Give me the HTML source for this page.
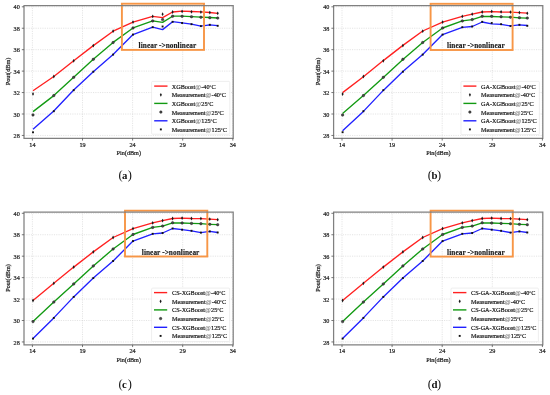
<!DOCTYPE html>
<html><head><meta charset="utf-8"><style>
html,body{margin:0;padding:0;background:#fff;width:550px;height:395px;overflow:hidden}
svg{display:block;font-family:'Liberation Serif', 'Times New Roman', serif}
</style></head><body>
<svg width="550" height="395" viewBox="0 0 550 395">
<rect width="550" height="395" fill="#fff"/>
<g stroke="#cdcdcd" stroke-width="0.55" stroke-dasharray="1.15 1.15"><line x1="32.40" y1="5.50" x2="32.40" y2="138.35"/><line x1="82.50" y1="5.50" x2="82.50" y2="138.35"/><line x1="132.60" y1="5.50" x2="132.60" y2="138.35"/><line x1="182.70" y1="5.50" x2="182.70" y2="138.35"/><line x1="232.80" y1="5.50" x2="232.80" y2="138.35"/><line x1="24.00" y1="135.44" x2="233.20" y2="135.44"/><line x1="24.00" y1="114.00" x2="233.20" y2="114.00"/><line x1="24.00" y1="92.56" x2="233.20" y2="92.56"/><line x1="24.00" y1="71.12" x2="233.20" y2="71.12"/><line x1="24.00" y1="49.68" x2="233.20" y2="49.68"/><line x1="24.00" y1="28.24" x2="233.20" y2="28.24"/><line x1="24.00" y1="6.80" x2="233.20" y2="6.80"/></g>
<polyline points="33.00,90.80 53.80,76.50 73.70,60.80 93.30,45.60 113.10,31.20 133.00,22.10 152.70,16.40 162.60,17.60 172.60,12.00 182.10,11.20 191.50,11.50 200.90,11.90 209.80,12.50 217.70,13.40" fill="none" stroke="#ff2020" stroke-width="1.35" stroke-linejoin="round" stroke-linecap="butt"/>
<polyline points="33.00,111.60 53.80,95.60 73.70,77.20 93.30,59.20 113.10,42.40 133.00,27.95 152.70,20.90 162.60,22.40 172.60,16.20 182.10,16.10 191.50,16.60 200.90,17.10 209.80,17.50 217.70,18.00" fill="none" stroke="#129a12" stroke-width="1.35" stroke-linejoin="round" stroke-linecap="butt"/>
<polyline points="33.00,129.20 53.80,111.00 73.70,90.00 93.30,71.70 113.10,54.60 133.00,34.60 152.70,27.10 162.60,29.60 172.60,21.70 182.10,22.80 191.50,24.20 200.90,26.10 209.80,24.80 217.70,25.70" fill="none" stroke="#2020ff" stroke-width="1.35" stroke-linejoin="round" stroke-linecap="butt"/>
<path d="M33.00,92.00 L34.05,93.90 L33.00,95.80 L31.95,93.90Z" fill="#1a1a1a"/>
<path d="M53.80,74.60 L54.85,76.50 L53.80,78.40 L52.75,76.50Z" fill="#1a1a1a"/>
<path d="M73.70,58.90 L74.75,60.80 L73.70,62.70 L72.65,60.80Z" fill="#1a1a1a"/>
<path d="M93.30,43.70 L94.35,45.60 L93.30,47.50 L92.25,45.60Z" fill="#1a1a1a"/>
<path d="M113.10,29.30 L114.15,31.20 L113.10,33.10 L112.05,31.20Z" fill="#1a1a1a"/>
<path d="M133.00,20.20 L134.05,22.10 L133.00,24.00 L131.95,22.10Z" fill="#1a1a1a"/>
<path d="M152.70,14.50 L153.75,16.40 L152.70,18.30 L151.65,16.40Z" fill="#1a1a1a"/>
<path d="M162.60,12.30 L163.65,14.20 L162.60,16.10 L161.55,14.20Z" fill="#1a1a1a"/>
<path d="M172.60,10.10 L173.65,12.00 L172.60,13.90 L171.55,12.00Z" fill="#1a1a1a"/>
<path d="M182.10,9.50 L183.15,11.40 L182.10,13.30 L181.05,11.40Z" fill="#1a1a1a"/>
<path d="M191.50,9.90 L192.55,11.80 L191.50,13.70 L190.45,11.80Z" fill="#1a1a1a"/>
<path d="M200.90,10.20 L201.95,12.10 L200.90,14.00 L199.85,12.10Z" fill="#1a1a1a"/>
<path d="M209.80,10.70 L210.85,12.60 L209.80,14.50 L208.75,12.60Z" fill="#1a1a1a"/>
<path d="M217.70,11.40 L218.75,13.30 L217.70,15.20 L216.65,13.30Z" fill="#1a1a1a"/>
<circle cx="33.00" cy="114.90" r="1.25" fill="#484848" stroke="#1c1c1c" stroke-width="0.45"/>
<circle cx="53.80" cy="95.60" r="1.25" fill="#484848" stroke="#1c1c1c" stroke-width="0.45"/>
<circle cx="73.70" cy="77.30" r="1.25" fill="#484848" stroke="#1c1c1c" stroke-width="0.45"/>
<circle cx="93.30" cy="59.30" r="1.25" fill="#484848" stroke="#1c1c1c" stroke-width="0.45"/>
<circle cx="113.10" cy="42.50" r="1.25" fill="#484848" stroke="#1c1c1c" stroke-width="0.45"/>
<circle cx="133.00" cy="27.95" r="1.25" fill="#484848" stroke="#1c1c1c" stroke-width="0.45"/>
<circle cx="152.70" cy="20.90" r="1.25" fill="#484848" stroke="#1c1c1c" stroke-width="0.45"/>
<circle cx="162.60" cy="19.60" r="1.25" fill="#484848" stroke="#1c1c1c" stroke-width="0.45"/>
<circle cx="172.60" cy="16.20" r="1.25" fill="#484848" stroke="#1c1c1c" stroke-width="0.45"/>
<circle cx="182.10" cy="16.30" r="1.25" fill="#484848" stroke="#1c1c1c" stroke-width="0.45"/>
<circle cx="191.50" cy="16.70" r="1.25" fill="#484848" stroke="#1c1c1c" stroke-width="0.45"/>
<circle cx="200.90" cy="17.20" r="1.25" fill="#484848" stroke="#1c1c1c" stroke-width="0.45"/>
<circle cx="209.80" cy="17.70" r="1.25" fill="#484848" stroke="#1c1c1c" stroke-width="0.45"/>
<circle cx="217.70" cy="18.10" r="1.25" fill="#484848" stroke="#1c1c1c" stroke-width="0.45"/>
<rect x="32.05" y="131.35" width="1.9" height="1.9" fill="#111"/>
<rect x="52.85" y="110.25" width="1.9" height="1.9" fill="#111"/>
<rect x="72.75" y="89.25" width="1.9" height="1.9" fill="#111"/>
<rect x="92.35" y="70.75" width="1.9" height="1.9" fill="#111"/>
<rect x="112.15" y="53.65" width="1.9" height="1.9" fill="#111"/>
<rect x="132.05" y="33.65" width="1.9" height="1.9" fill="#111"/>
<rect x="151.75" y="26.25" width="1.9" height="1.9" fill="#111"/>
<rect x="161.65" y="25.55" width="1.9" height="1.9" fill="#111"/>
<rect x="171.65" y="20.85" width="1.9" height="1.9" fill="#111"/>
<rect x="181.15" y="22.05" width="1.9" height="1.9" fill="#111"/>
<rect x="190.55" y="23.25" width="1.9" height="1.9" fill="#111"/>
<rect x="199.95" y="25.15" width="1.9" height="1.9" fill="#111"/>
<rect x="208.85" y="23.85" width="1.9" height="1.9" fill="#111"/>
<rect x="216.75" y="24.85" width="1.9" height="1.9" fill="#111"/>
<rect x="121.90" y="3.70" width="82.10" height="46.20" fill="none" stroke="#f79646" stroke-width="1.9"/>
<text x="138.60" y="48.40" font-size="7.3" font-weight="bold" letter-spacing="0.06" fill="#1a1a1a" stroke="#1a1a1a" stroke-width="0.15">linear -&gt;nonlinear</text>
<path d="M24.00,138.35 V5.50 H233.20 V138.35 Z" fill="none" stroke="#808080" stroke-width="1.25"/>
<g stroke="#555" stroke-width="0.8"><line x1="32.40" y1="138.35" x2="32.40" y2="140.55"/><line x1="82.50" y1="138.35" x2="82.50" y2="140.55"/><line x1="132.60" y1="138.35" x2="132.60" y2="140.55"/><line x1="182.70" y1="138.35" x2="182.70" y2="140.55"/><line x1="232.80" y1="138.35" x2="232.80" y2="140.55"/><line x1="21.80" y1="135.44" x2="24.00" y2="135.44"/><line x1="21.80" y1="114.00" x2="24.00" y2="114.00"/><line x1="21.80" y1="92.56" x2="24.00" y2="92.56"/><line x1="21.80" y1="71.12" x2="24.00" y2="71.12"/><line x1="21.80" y1="49.68" x2="24.00" y2="49.68"/><line x1="21.80" y1="28.24" x2="24.00" y2="28.24"/><line x1="21.80" y1="6.80" x2="24.00" y2="6.80"/></g>
<g font-size="6.2" fill="#262626" stroke="#262626" stroke-width="0.22">
<text x="32.40" y="146.90" text-anchor="middle">14</text>
<text x="82.50" y="146.90" text-anchor="middle">19</text>
<text x="132.60" y="146.90" text-anchor="middle">24</text>
<text x="182.70" y="146.90" text-anchor="middle">29</text>
<text x="232.80" y="146.90" text-anchor="middle">34</text>
<text x="19.80" y="138.04" text-anchor="end">28</text>
<text x="19.80" y="116.60" text-anchor="end">30</text>
<text x="19.80" y="95.16" text-anchor="end">32</text>
<text x="19.80" y="73.72" text-anchor="end">34</text>
<text x="19.80" y="52.28" text-anchor="end">36</text>
<text x="19.80" y="30.84" text-anchor="end">38</text>
<text x="19.80" y="9.40" text-anchor="end">40</text>
<text x="128.80" y="155.20" text-anchor="middle">Pin(dBm)</text>
<text transform="translate(10.30,71.50) rotate(-90)" text-anchor="middle">Pout(dBm)</text>
</g>
<rect x="151.60" y="81.40" width="78.20" height="52.80" rx="1" fill="#fff" fill-opacity="0.9" stroke="#e2e2e2" stroke-width="0.6"/>
<line x1="154.20" y1="86.10" x2="167.50" y2="86.10" stroke="#ff2020" stroke-width="1.4"/>
<text x="171.80" y="88.60" font-size="6.2" fill="#262626" stroke="#262626" stroke-width="0.22">XGBoost<tspan fill="#808080" stroke="#8a8a8a" stroke-width="0.15">@</tspan><tspan dx="0.4">-40</tspan><tspan font-size="4.6" dy="-1.1">°</tspan><tspan dy="1.1">C</tspan></text>
<path d="M160.85,92.90 L161.90,94.80 L160.85,96.70 L159.80,94.80Z" fill="#1a1a1a"/>
<text x="171.80" y="97.30" font-size="6.2" fill="#262626" stroke="#262626" stroke-width="0.22">Measurement<tspan fill="#808080" stroke="#8a8a8a" stroke-width="0.15">@</tspan><tspan dx="0.4">-40</tspan><tspan font-size="4.6" dy="-1.1">°</tspan><tspan dy="1.1">C</tspan></text>
<line x1="154.20" y1="103.40" x2="167.50" y2="103.40" stroke="#129a12" stroke-width="1.4"/>
<text x="171.80" y="105.90" font-size="6.2" fill="#262626" stroke="#262626" stroke-width="0.22">XGBoost<tspan fill="#808080" stroke="#8a8a8a" stroke-width="0.15">@</tspan><tspan dx="0.4">25</tspan><tspan font-size="4.6" dy="-1.1">°</tspan><tspan dy="1.1">C</tspan></text>
<circle cx="160.85" cy="112.10" r="1.25" fill="#484848" stroke="#1c1c1c" stroke-width="0.45"/>
<text x="171.80" y="114.60" font-size="6.2" fill="#262626" stroke="#262626" stroke-width="0.22">Measurement<tspan fill="#808080" stroke="#8a8a8a" stroke-width="0.15">@</tspan><tspan dx="0.4">25</tspan><tspan font-size="4.6" dy="-1.1">°</tspan><tspan dy="1.1">C</tspan></text>
<line x1="154.20" y1="120.80" x2="167.50" y2="120.80" stroke="#2020ff" stroke-width="1.4"/>
<text x="171.80" y="123.30" font-size="6.2" fill="#262626" stroke="#262626" stroke-width="0.22">XGBoost<tspan fill="#808080" stroke="#8a8a8a" stroke-width="0.15">@</tspan><tspan dx="0.4">125</tspan><tspan font-size="4.6" dy="-1.1">°</tspan><tspan dy="1.1">C</tspan></text>
<rect x="159.90" y="128.45" width="1.9" height="1.9" fill="#111"/>
<text x="171.80" y="131.90" font-size="6.2" fill="#262626" stroke="#262626" stroke-width="0.22">Measurement<tspan fill="#808080" stroke="#8a8a8a" stroke-width="0.15">@</tspan><tspan dx="0.4">125</tspan><tspan font-size="4.6" dy="-1.1">°</tspan><tspan dy="1.1">C</tspan></text>
<g fill="#111"><text x="118.40" y="179.20" font-size="12.4">(</text><text x="122.10" y="178.80" font-size="10.8" font-weight="bold">a</text><text x="127.80" y="179.20" font-size="12.4">)</text></g>
<g stroke="#cdcdcd" stroke-width="0.55" stroke-dasharray="1.15 1.15"><line x1="342.00" y1="5.50" x2="342.00" y2="138.35"/><line x1="392.10" y1="5.50" x2="392.10" y2="138.35"/><line x1="442.20" y1="5.50" x2="442.20" y2="138.35"/><line x1="492.30" y1="5.50" x2="492.30" y2="138.35"/><line x1="542.40" y1="5.50" x2="542.40" y2="138.35"/><line x1="333.60" y1="135.44" x2="542.80" y2="135.44"/><line x1="333.60" y1="114.00" x2="542.80" y2="114.00"/><line x1="333.60" y1="92.56" x2="542.80" y2="92.56"/><line x1="333.60" y1="71.12" x2="542.80" y2="71.12"/><line x1="333.60" y1="49.68" x2="542.80" y2="49.68"/><line x1="333.60" y1="28.24" x2="542.80" y2="28.24"/><line x1="333.60" y1="6.80" x2="542.80" y2="6.80"/></g>
<polyline points="342.60,92.60 363.40,76.80 383.30,60.60 402.90,45.40 422.70,31.00 442.60,22.10 462.30,16.40 472.20,14.10 482.20,12.00 491.70,11.60 501.10,12.00 510.50,12.10 519.40,12.70 527.30,13.20" fill="none" stroke="#ff2020" stroke-width="1.35" stroke-linejoin="round" stroke-linecap="butt"/>
<polyline points="342.60,113.40 363.40,95.60 383.30,77.40 402.90,59.40 422.70,42.50 442.60,28.00 462.30,20.90 472.20,19.60 482.20,16.30 491.70,16.50 501.10,16.90 510.50,17.20 519.40,17.80 527.30,18.20" fill="none" stroke="#129a12" stroke-width="1.35" stroke-linejoin="round" stroke-linecap="butt"/>
<polyline points="342.60,130.80 363.40,111.40 383.30,90.40 402.90,71.60 422.70,54.50 442.60,34.60 462.30,27.30 472.20,26.50 482.20,22.00 491.70,23.90 501.10,24.40 510.50,25.90 519.40,24.80 527.30,25.50" fill="none" stroke="#2020ff" stroke-width="1.35" stroke-linejoin="round" stroke-linecap="butt"/>
<path d="M342.60,92.20 L343.65,94.10 L342.60,96.00 L341.55,94.10Z" fill="#1a1a1a"/>
<path d="M363.40,74.60 L364.45,76.50 L363.40,78.40 L362.35,76.50Z" fill="#1a1a1a"/>
<path d="M383.30,58.90 L384.35,60.80 L383.30,62.70 L382.25,60.80Z" fill="#1a1a1a"/>
<path d="M402.90,43.70 L403.95,45.60 L402.90,47.50 L401.85,45.60Z" fill="#1a1a1a"/>
<path d="M422.70,29.30 L423.75,31.20 L422.70,33.10 L421.65,31.20Z" fill="#1a1a1a"/>
<path d="M442.60,20.20 L443.65,22.10 L442.60,24.00 L441.55,22.10Z" fill="#1a1a1a"/>
<path d="M462.30,14.50 L463.35,16.40 L462.30,18.30 L461.25,16.40Z" fill="#1a1a1a"/>
<path d="M472.20,12.30 L473.25,14.20 L472.20,16.10 L471.15,14.20Z" fill="#1a1a1a"/>
<path d="M482.20,10.10 L483.25,12.00 L482.20,13.90 L481.15,12.00Z" fill="#1a1a1a"/>
<path d="M491.70,9.50 L492.75,11.40 L491.70,13.30 L490.65,11.40Z" fill="#1a1a1a"/>
<path d="M501.10,9.90 L502.15,11.80 L501.10,13.70 L500.05,11.80Z" fill="#1a1a1a"/>
<path d="M510.50,10.20 L511.55,12.10 L510.50,14.00 L509.45,12.10Z" fill="#1a1a1a"/>
<path d="M519.40,10.70 L520.45,12.60 L519.40,14.50 L518.35,12.60Z" fill="#1a1a1a"/>
<path d="M527.30,11.40 L528.35,13.30 L527.30,15.20 L526.25,13.30Z" fill="#1a1a1a"/>
<circle cx="342.60" cy="115.00" r="1.25" fill="#484848" stroke="#1c1c1c" stroke-width="0.45"/>
<circle cx="363.40" cy="95.60" r="1.25" fill="#484848" stroke="#1c1c1c" stroke-width="0.45"/>
<circle cx="383.30" cy="77.30" r="1.25" fill="#484848" stroke="#1c1c1c" stroke-width="0.45"/>
<circle cx="402.90" cy="59.30" r="1.25" fill="#484848" stroke="#1c1c1c" stroke-width="0.45"/>
<circle cx="422.70" cy="42.50" r="1.25" fill="#484848" stroke="#1c1c1c" stroke-width="0.45"/>
<circle cx="442.60" cy="27.95" r="1.25" fill="#484848" stroke="#1c1c1c" stroke-width="0.45"/>
<circle cx="462.30" cy="20.90" r="1.25" fill="#484848" stroke="#1c1c1c" stroke-width="0.45"/>
<circle cx="472.20" cy="19.60" r="1.25" fill="#484848" stroke="#1c1c1c" stroke-width="0.45"/>
<circle cx="482.20" cy="16.20" r="1.25" fill="#484848" stroke="#1c1c1c" stroke-width="0.45"/>
<circle cx="491.70" cy="16.30" r="1.25" fill="#484848" stroke="#1c1c1c" stroke-width="0.45"/>
<circle cx="501.10" cy="16.70" r="1.25" fill="#484848" stroke="#1c1c1c" stroke-width="0.45"/>
<circle cx="510.50" cy="17.20" r="1.25" fill="#484848" stroke="#1c1c1c" stroke-width="0.45"/>
<circle cx="519.40" cy="17.70" r="1.25" fill="#484848" stroke="#1c1c1c" stroke-width="0.45"/>
<circle cx="527.30" cy="18.10" r="1.25" fill="#484848" stroke="#1c1c1c" stroke-width="0.45"/>
<rect x="341.65" y="131.25" width="1.9" height="1.9" fill="#111"/>
<rect x="362.45" y="110.25" width="1.9" height="1.9" fill="#111"/>
<rect x="382.35" y="89.25" width="1.9" height="1.9" fill="#111"/>
<rect x="401.95" y="70.75" width="1.9" height="1.9" fill="#111"/>
<rect x="421.75" y="53.65" width="1.9" height="1.9" fill="#111"/>
<rect x="441.65" y="33.65" width="1.9" height="1.9" fill="#111"/>
<rect x="461.35" y="26.25" width="1.9" height="1.9" fill="#111"/>
<rect x="471.25" y="25.55" width="1.9" height="1.9" fill="#111"/>
<rect x="481.25" y="20.85" width="1.9" height="1.9" fill="#111"/>
<rect x="490.75" y="22.05" width="1.9" height="1.9" fill="#111"/>
<rect x="500.15" y="23.25" width="1.9" height="1.9" fill="#111"/>
<rect x="509.55" y="25.15" width="1.9" height="1.9" fill="#111"/>
<rect x="518.45" y="23.85" width="1.9" height="1.9" fill="#111"/>
<rect x="526.35" y="24.85" width="1.9" height="1.9" fill="#111"/>
<rect x="430.60" y="3.80" width="82.00" height="46.20" fill="none" stroke="#f79646" stroke-width="1.9"/>
<text x="447.10" y="48.40" font-size="7.3" font-weight="bold" letter-spacing="0.06" fill="#1a1a1a" stroke="#1a1a1a" stroke-width="0.15">linear -&gt;nonlinear</text>
<path d="M333.60,138.35 V5.50 H542.80 V138.35 Z" fill="none" stroke="#808080" stroke-width="1.25"/>
<g stroke="#555" stroke-width="0.8"><line x1="342.00" y1="138.35" x2="342.00" y2="140.55"/><line x1="392.10" y1="138.35" x2="392.10" y2="140.55"/><line x1="442.20" y1="138.35" x2="442.20" y2="140.55"/><line x1="492.30" y1="138.35" x2="492.30" y2="140.55"/><line x1="542.40" y1="138.35" x2="542.40" y2="140.55"/><line x1="331.40" y1="135.44" x2="333.60" y2="135.44"/><line x1="331.40" y1="114.00" x2="333.60" y2="114.00"/><line x1="331.40" y1="92.56" x2="333.60" y2="92.56"/><line x1="331.40" y1="71.12" x2="333.60" y2="71.12"/><line x1="331.40" y1="49.68" x2="333.60" y2="49.68"/><line x1="331.40" y1="28.24" x2="333.60" y2="28.24"/><line x1="331.40" y1="6.80" x2="333.60" y2="6.80"/></g>
<g font-size="6.2" fill="#262626" stroke="#262626" stroke-width="0.22">
<text x="342.00" y="146.90" text-anchor="middle">14</text>
<text x="392.10" y="146.90" text-anchor="middle">19</text>
<text x="442.20" y="146.90" text-anchor="middle">24</text>
<text x="492.30" y="146.90" text-anchor="middle">29</text>
<text x="542.40" y="146.90" text-anchor="middle">34</text>
<text x="329.40" y="138.04" text-anchor="end">28</text>
<text x="329.40" y="116.60" text-anchor="end">30</text>
<text x="329.40" y="95.16" text-anchor="end">32</text>
<text x="329.40" y="73.72" text-anchor="end">34</text>
<text x="329.40" y="52.28" text-anchor="end">36</text>
<text x="329.40" y="30.84" text-anchor="end">38</text>
<text x="329.40" y="9.40" text-anchor="end">40</text>
<text x="438.40" y="155.20" text-anchor="middle">Pin(dBm)</text>
<text transform="translate(319.90,71.50) rotate(-90)" text-anchor="middle">Pout(dBm)</text>
</g>
<rect x="461.00" y="81.40" width="78.40" height="53.20" rx="1" fill="#fff" fill-opacity="0.9" stroke="#e2e2e2" stroke-width="0.6"/>
<line x1="463.40" y1="86.10" x2="476.40" y2="86.10" stroke="#ff2020" stroke-width="1.4"/>
<text x="481.00" y="88.60" font-size="6.2" fill="#262626" stroke="#262626" stroke-width="0.22">GA-XGBoost<tspan fill="#808080" stroke="#8a8a8a" stroke-width="0.15">@</tspan><tspan dx="0.4">-40</tspan><tspan font-size="4.6" dy="-1.1">°</tspan><tspan dy="1.1">C</tspan></text>
<path d="M469.90,92.90 L470.95,94.80 L469.90,96.70 L468.85,94.80Z" fill="#1a1a1a"/>
<text x="481.00" y="97.30" font-size="6.2" fill="#262626" stroke="#262626" stroke-width="0.22">Measurement<tspan fill="#808080" stroke="#8a8a8a" stroke-width="0.15">@</tspan><tspan dx="0.4">-40</tspan><tspan font-size="4.6" dy="-1.1">°</tspan><tspan dy="1.1">C</tspan></text>
<line x1="463.40" y1="103.40" x2="476.40" y2="103.40" stroke="#129a12" stroke-width="1.4"/>
<text x="481.00" y="105.90" font-size="6.2" fill="#262626" stroke="#262626" stroke-width="0.22">GA-XGBoost<tspan fill="#808080" stroke="#8a8a8a" stroke-width="0.15">@</tspan><tspan dx="0.4">25</tspan><tspan font-size="4.6" dy="-1.1">°</tspan><tspan dy="1.1">C</tspan></text>
<circle cx="469.90" cy="112.10" r="1.25" fill="#484848" stroke="#1c1c1c" stroke-width="0.45"/>
<text x="481.00" y="114.60" font-size="6.2" fill="#262626" stroke="#262626" stroke-width="0.22">Measurement<tspan fill="#808080" stroke="#8a8a8a" stroke-width="0.15">@</tspan><tspan dx="0.4">25</tspan><tspan font-size="4.6" dy="-1.1">°</tspan><tspan dy="1.1">C</tspan></text>
<line x1="463.40" y1="120.80" x2="476.40" y2="120.80" stroke="#2020ff" stroke-width="1.4"/>
<text x="481.00" y="123.30" font-size="6.2" fill="#262626" stroke="#262626" stroke-width="0.22">GA-XGBoost<tspan fill="#808080" stroke="#8a8a8a" stroke-width="0.15">@</tspan><tspan dx="0.4">125</tspan><tspan font-size="4.6" dy="-1.1">°</tspan><tspan dy="1.1">C</tspan></text>
<rect x="468.95" y="128.45" width="1.9" height="1.9" fill="#111"/>
<text x="481.00" y="131.90" font-size="6.2" fill="#262626" stroke="#262626" stroke-width="0.22">Measurement<tspan fill="#808080" stroke="#8a8a8a" stroke-width="0.15">@</tspan><tspan dx="0.4">125</tspan><tspan font-size="4.6" dy="-1.1">°</tspan><tspan dy="1.1">C</tspan></text>
<g fill="#111"><text x="427.70" y="179.20" font-size="12.4">(</text><text x="431.40" y="178.80" font-size="10.8" font-weight="bold">b</text><text x="437.10" y="179.20" font-size="12.4">)</text></g>
<g stroke="#cdcdcd" stroke-width="0.55" stroke-dasharray="1.15 1.15"><line x1="32.40" y1="212.00" x2="32.40" y2="344.85"/><line x1="82.50" y1="212.00" x2="82.50" y2="344.85"/><line x1="132.60" y1="212.00" x2="132.60" y2="344.85"/><line x1="182.70" y1="212.00" x2="182.70" y2="344.85"/><line x1="232.80" y1="212.00" x2="232.80" y2="344.85"/><line x1="24.00" y1="341.94" x2="233.20" y2="341.94"/><line x1="24.00" y1="320.50" x2="233.20" y2="320.50"/><line x1="24.00" y1="299.06" x2="233.20" y2="299.06"/><line x1="24.00" y1="277.62" x2="233.20" y2="277.62"/><line x1="24.00" y1="256.18" x2="233.20" y2="256.18"/><line x1="24.00" y1="234.74" x2="233.20" y2="234.74"/><line x1="24.00" y1="213.30" x2="233.20" y2="213.30"/></g>
<polyline points="33.00,300.50 53.80,283.30 73.70,267.10 93.30,251.90 113.10,237.50 133.00,228.60 152.70,222.90 162.60,220.60 172.60,218.50 182.10,218.10 191.50,218.50 200.90,218.60 209.80,219.20 217.70,219.70" fill="none" stroke="#ff2020" stroke-width="1.35" stroke-linejoin="round" stroke-linecap="butt"/>
<polyline points="33.00,321.60 53.80,302.10 73.70,283.90 93.30,265.90 113.10,249.00 133.00,234.50 152.70,227.40 162.60,226.10 172.60,222.80 182.10,223.00 191.50,223.40 200.90,223.70 209.80,224.30 217.70,224.70" fill="none" stroke="#129a12" stroke-width="1.35" stroke-linejoin="round" stroke-linecap="butt"/>
<polyline points="33.00,338.60 53.80,317.90 73.70,296.90 93.30,278.10 113.10,261.00 133.00,241.10 152.70,233.80 162.60,233.00 172.60,228.50 182.10,229.70 191.50,230.80 200.90,232.60 209.80,231.40 217.70,232.50" fill="none" stroke="#2020ff" stroke-width="1.35" stroke-linejoin="round" stroke-linecap="butt"/>
<path d="M33.00,298.60 L34.05,300.50 L33.00,302.40 L31.95,300.50Z" fill="#1a1a1a"/>
<path d="M53.80,281.40 L54.85,283.30 L53.80,285.20 L52.75,283.30Z" fill="#1a1a1a"/>
<path d="M73.70,265.20 L74.75,267.10 L73.70,269.00 L72.65,267.10Z" fill="#1a1a1a"/>
<path d="M93.30,250.00 L94.35,251.90 L93.30,253.80 L92.25,251.90Z" fill="#1a1a1a"/>
<path d="M113.10,235.60 L114.15,237.50 L113.10,239.40 L112.05,237.50Z" fill="#1a1a1a"/>
<path d="M133.00,226.70 L134.05,228.60 L133.00,230.50 L131.95,228.60Z" fill="#1a1a1a"/>
<path d="M152.70,221.00 L153.75,222.90 L152.70,224.80 L151.65,222.90Z" fill="#1a1a1a"/>
<path d="M162.60,218.70 L163.65,220.60 L162.60,222.50 L161.55,220.60Z" fill="#1a1a1a"/>
<path d="M172.60,216.60 L173.65,218.50 L172.60,220.40 L171.55,218.50Z" fill="#1a1a1a"/>
<path d="M182.10,216.20 L183.15,218.10 L182.10,220.00 L181.05,218.10Z" fill="#1a1a1a"/>
<path d="M191.50,216.60 L192.55,218.50 L191.50,220.40 L190.45,218.50Z" fill="#1a1a1a"/>
<path d="M200.90,216.70 L201.95,218.60 L200.90,220.50 L199.85,218.60Z" fill="#1a1a1a"/>
<path d="M209.80,217.30 L210.85,219.20 L209.80,221.10 L208.75,219.20Z" fill="#1a1a1a"/>
<path d="M217.70,217.80 L218.75,219.70 L217.70,221.60 L216.65,219.70Z" fill="#1a1a1a"/>
<circle cx="33.00" cy="321.60" r="1.25" fill="#484848" stroke="#1c1c1c" stroke-width="0.45"/>
<circle cx="53.80" cy="302.10" r="1.25" fill="#484848" stroke="#1c1c1c" stroke-width="0.45"/>
<circle cx="73.70" cy="283.90" r="1.25" fill="#484848" stroke="#1c1c1c" stroke-width="0.45"/>
<circle cx="93.30" cy="265.90" r="1.25" fill="#484848" stroke="#1c1c1c" stroke-width="0.45"/>
<circle cx="113.10" cy="249.00" r="1.25" fill="#484848" stroke="#1c1c1c" stroke-width="0.45"/>
<circle cx="133.00" cy="234.50" r="1.25" fill="#484848" stroke="#1c1c1c" stroke-width="0.45"/>
<circle cx="152.70" cy="227.40" r="1.25" fill="#484848" stroke="#1c1c1c" stroke-width="0.45"/>
<circle cx="162.60" cy="226.10" r="1.25" fill="#484848" stroke="#1c1c1c" stroke-width="0.45"/>
<circle cx="172.60" cy="222.80" r="1.25" fill="#484848" stroke="#1c1c1c" stroke-width="0.45"/>
<circle cx="182.10" cy="223.00" r="1.25" fill="#484848" stroke="#1c1c1c" stroke-width="0.45"/>
<circle cx="191.50" cy="223.40" r="1.25" fill="#484848" stroke="#1c1c1c" stroke-width="0.45"/>
<circle cx="200.90" cy="223.70" r="1.25" fill="#484848" stroke="#1c1c1c" stroke-width="0.45"/>
<circle cx="209.80" cy="224.30" r="1.25" fill="#484848" stroke="#1c1c1c" stroke-width="0.45"/>
<circle cx="217.70" cy="224.70" r="1.25" fill="#484848" stroke="#1c1c1c" stroke-width="0.45"/>
<rect x="32.05" y="337.65" width="1.9" height="1.9" fill="#111"/>
<rect x="52.85" y="316.95" width="1.9" height="1.9" fill="#111"/>
<rect x="72.75" y="295.95" width="1.9" height="1.9" fill="#111"/>
<rect x="92.35" y="277.15" width="1.9" height="1.9" fill="#111"/>
<rect x="112.15" y="260.05" width="1.9" height="1.9" fill="#111"/>
<rect x="132.05" y="240.15" width="1.9" height="1.9" fill="#111"/>
<rect x="151.75" y="232.85" width="1.9" height="1.9" fill="#111"/>
<rect x="161.65" y="232.05" width="1.9" height="1.9" fill="#111"/>
<rect x="171.65" y="227.55" width="1.9" height="1.9" fill="#111"/>
<rect x="181.15" y="228.75" width="1.9" height="1.9" fill="#111"/>
<rect x="190.55" y="229.85" width="1.9" height="1.9" fill="#111"/>
<rect x="199.95" y="231.65" width="1.9" height="1.9" fill="#111"/>
<rect x="208.85" y="230.45" width="1.9" height="1.9" fill="#111"/>
<rect x="216.75" y="231.55" width="1.9" height="1.9" fill="#111"/>
<rect x="125.00" y="210.70" width="82.30" height="45.80" fill="none" stroke="#f79646" stroke-width="1.9"/>
<text x="141.80" y="255.10" font-size="7.3" font-weight="bold" letter-spacing="0.06" fill="#1a1a1a" stroke="#1a1a1a" stroke-width="0.15">linear -&gt;nonlinear</text>
<path d="M24.00,344.85 V212.00 H233.20 V344.85 Z" fill="none" stroke="#808080" stroke-width="1.25"/>
<g stroke="#555" stroke-width="0.8"><line x1="32.40" y1="344.85" x2="32.40" y2="347.05"/><line x1="82.50" y1="344.85" x2="82.50" y2="347.05"/><line x1="132.60" y1="344.85" x2="132.60" y2="347.05"/><line x1="182.70" y1="344.85" x2="182.70" y2="347.05"/><line x1="232.80" y1="344.85" x2="232.80" y2="347.05"/><line x1="21.80" y1="341.94" x2="24.00" y2="341.94"/><line x1="21.80" y1="320.50" x2="24.00" y2="320.50"/><line x1="21.80" y1="299.06" x2="24.00" y2="299.06"/><line x1="21.80" y1="277.62" x2="24.00" y2="277.62"/><line x1="21.80" y1="256.18" x2="24.00" y2="256.18"/><line x1="21.80" y1="234.74" x2="24.00" y2="234.74"/><line x1="21.80" y1="213.30" x2="24.00" y2="213.30"/></g>
<g font-size="6.2" fill="#262626" stroke="#262626" stroke-width="0.22">
<text x="32.40" y="353.40" text-anchor="middle">14</text>
<text x="82.50" y="353.40" text-anchor="middle">19</text>
<text x="132.60" y="353.40" text-anchor="middle">24</text>
<text x="182.70" y="353.40" text-anchor="middle">29</text>
<text x="232.80" y="353.40" text-anchor="middle">34</text>
<text x="19.80" y="344.54" text-anchor="end">28</text>
<text x="19.80" y="323.10" text-anchor="end">30</text>
<text x="19.80" y="301.66" text-anchor="end">32</text>
<text x="19.80" y="280.22" text-anchor="end">34</text>
<text x="19.80" y="258.78" text-anchor="end">36</text>
<text x="19.80" y="237.34" text-anchor="end">38</text>
<text x="19.80" y="215.90" text-anchor="end">40</text>
<text x="128.80" y="361.70" text-anchor="middle">Pin(dBm)</text>
<text transform="translate(10.30,278.00) rotate(-90)" text-anchor="middle">Pout(dBm)</text>
</g>
<rect x="151.60" y="288.10" width="78.00" height="53.40" rx="1" fill="#fff" fill-opacity="0.9" stroke="#e2e2e2" stroke-width="0.6"/>
<line x1="154.00" y1="292.60" x2="167.20" y2="292.60" stroke="#ff2020" stroke-width="1.4"/>
<text x="172.00" y="295.10" font-size="6.2" fill="#262626" stroke="#262626" stroke-width="0.22">CS-XGBoost<tspan fill="#808080" stroke="#8a8a8a" stroke-width="0.15">@</tspan><tspan dx="0.4">-40</tspan><tspan font-size="4.6" dy="-1.1">°</tspan><tspan dy="1.1">C</tspan></text>
<path d="M160.60,299.40 L161.65,301.30 L160.60,303.20 L159.55,301.30Z" fill="#1a1a1a"/>
<text x="172.00" y="303.80" font-size="6.2" fill="#262626" stroke="#262626" stroke-width="0.22">Measurement<tspan fill="#808080" stroke="#8a8a8a" stroke-width="0.15">@</tspan><tspan dx="0.4">-40</tspan><tspan font-size="4.6" dy="-1.1">°</tspan><tspan dy="1.1">C</tspan></text>
<line x1="154.00" y1="309.90" x2="167.20" y2="309.90" stroke="#129a12" stroke-width="1.4"/>
<text x="172.00" y="312.40" font-size="6.2" fill="#262626" stroke="#262626" stroke-width="0.22">CS-XGBoost<tspan fill="#808080" stroke="#8a8a8a" stroke-width="0.15">@</tspan><tspan dx="0.4">25</tspan><tspan font-size="4.6" dy="-1.1">°</tspan><tspan dy="1.1">C</tspan></text>
<circle cx="160.60" cy="318.60" r="1.25" fill="#484848" stroke="#1c1c1c" stroke-width="0.45"/>
<text x="172.00" y="321.10" font-size="6.2" fill="#262626" stroke="#262626" stroke-width="0.22">Measurement<tspan fill="#808080" stroke="#8a8a8a" stroke-width="0.15">@</tspan><tspan dx="0.4">25</tspan><tspan font-size="4.6" dy="-1.1">°</tspan><tspan dy="1.1">C</tspan></text>
<line x1="154.00" y1="327.30" x2="167.20" y2="327.30" stroke="#2020ff" stroke-width="1.4"/>
<text x="172.00" y="329.80" font-size="6.2" fill="#262626" stroke="#262626" stroke-width="0.22">CS-XGBoost<tspan fill="#808080" stroke="#8a8a8a" stroke-width="0.15">@</tspan><tspan dx="0.4">125</tspan><tspan font-size="4.6" dy="-1.1">°</tspan><tspan dy="1.1">C</tspan></text>
<rect x="159.65" y="334.95" width="1.9" height="1.9" fill="#111"/>
<text x="172.00" y="338.40" font-size="6.2" fill="#262626" stroke="#262626" stroke-width="0.22">Measurement<tspan fill="#808080" stroke="#8a8a8a" stroke-width="0.15">@</tspan><tspan dx="0.4">125</tspan><tspan font-size="4.6" dy="-1.1">°</tspan><tspan dy="1.1">C</tspan></text>
<g fill="#111"><text x="118.40" y="388.40" font-size="12.4">(</text><text x="122.10" y="388.00" font-size="10.8" font-weight="bold">c</text><text x="127.80" y="388.40" font-size="12.4">)</text></g>
<g stroke="#cdcdcd" stroke-width="0.55" stroke-dasharray="1.15 1.15"><line x1="342.00" y1="212.00" x2="342.00" y2="344.85"/><line x1="392.10" y1="212.00" x2="392.10" y2="344.85"/><line x1="442.20" y1="212.00" x2="442.20" y2="344.85"/><line x1="492.30" y1="212.00" x2="492.30" y2="344.85"/><line x1="542.40" y1="212.00" x2="542.40" y2="344.85"/><line x1="333.60" y1="341.94" x2="542.80" y2="341.94"/><line x1="333.60" y1="320.50" x2="542.80" y2="320.50"/><line x1="333.60" y1="299.06" x2="542.80" y2="299.06"/><line x1="333.60" y1="277.62" x2="542.80" y2="277.62"/><line x1="333.60" y1="256.18" x2="542.80" y2="256.18"/><line x1="333.60" y1="234.74" x2="542.80" y2="234.74"/><line x1="333.60" y1="213.30" x2="542.80" y2="213.30"/></g>
<polyline points="342.60,300.50 363.40,283.30 383.30,267.10 402.90,251.90 422.70,237.50 442.60,228.60 462.30,222.90 472.20,220.60 482.20,218.50 491.70,218.10 501.10,218.50 510.50,218.60 519.40,219.20 527.30,219.70" fill="none" stroke="#ff2020" stroke-width="1.35" stroke-linejoin="round" stroke-linecap="butt"/>
<polyline points="342.60,321.60 363.40,302.10 383.30,283.90 402.90,265.90 422.70,249.00 442.60,234.50 462.30,227.40 472.20,226.10 482.20,222.80 491.70,223.00 501.10,223.40 510.50,223.70 519.40,224.30 527.30,224.70" fill="none" stroke="#129a12" stroke-width="1.35" stroke-linejoin="round" stroke-linecap="butt"/>
<polyline points="342.60,338.60 363.40,317.90 383.30,296.90 402.90,278.10 422.70,261.00 442.60,241.10 462.30,233.80 472.20,233.00 482.20,228.50 491.70,229.70 501.10,230.80 510.50,232.60 519.40,231.40 527.30,232.50" fill="none" stroke="#2020ff" stroke-width="1.35" stroke-linejoin="round" stroke-linecap="butt"/>
<path d="M342.60,298.60 L343.65,300.50 L342.60,302.40 L341.55,300.50Z" fill="#1a1a1a"/>
<path d="M363.40,281.40 L364.45,283.30 L363.40,285.20 L362.35,283.30Z" fill="#1a1a1a"/>
<path d="M383.30,265.20 L384.35,267.10 L383.30,269.00 L382.25,267.10Z" fill="#1a1a1a"/>
<path d="M402.90,250.00 L403.95,251.90 L402.90,253.80 L401.85,251.90Z" fill="#1a1a1a"/>
<path d="M422.70,235.60 L423.75,237.50 L422.70,239.40 L421.65,237.50Z" fill="#1a1a1a"/>
<path d="M442.60,226.70 L443.65,228.60 L442.60,230.50 L441.55,228.60Z" fill="#1a1a1a"/>
<path d="M462.30,221.00 L463.35,222.90 L462.30,224.80 L461.25,222.90Z" fill="#1a1a1a"/>
<path d="M472.20,218.70 L473.25,220.60 L472.20,222.50 L471.15,220.60Z" fill="#1a1a1a"/>
<path d="M482.20,216.60 L483.25,218.50 L482.20,220.40 L481.15,218.50Z" fill="#1a1a1a"/>
<path d="M491.70,216.20 L492.75,218.10 L491.70,220.00 L490.65,218.10Z" fill="#1a1a1a"/>
<path d="M501.10,216.60 L502.15,218.50 L501.10,220.40 L500.05,218.50Z" fill="#1a1a1a"/>
<path d="M510.50,216.70 L511.55,218.60 L510.50,220.50 L509.45,218.60Z" fill="#1a1a1a"/>
<path d="M519.40,217.30 L520.45,219.20 L519.40,221.10 L518.35,219.20Z" fill="#1a1a1a"/>
<path d="M527.30,217.80 L528.35,219.70 L527.30,221.60 L526.25,219.70Z" fill="#1a1a1a"/>
<circle cx="342.60" cy="321.60" r="1.25" fill="#484848" stroke="#1c1c1c" stroke-width="0.45"/>
<circle cx="363.40" cy="302.10" r="1.25" fill="#484848" stroke="#1c1c1c" stroke-width="0.45"/>
<circle cx="383.30" cy="283.90" r="1.25" fill="#484848" stroke="#1c1c1c" stroke-width="0.45"/>
<circle cx="402.90" cy="265.90" r="1.25" fill="#484848" stroke="#1c1c1c" stroke-width="0.45"/>
<circle cx="422.70" cy="249.00" r="1.25" fill="#484848" stroke="#1c1c1c" stroke-width="0.45"/>
<circle cx="442.60" cy="234.50" r="1.25" fill="#484848" stroke="#1c1c1c" stroke-width="0.45"/>
<circle cx="462.30" cy="227.40" r="1.25" fill="#484848" stroke="#1c1c1c" stroke-width="0.45"/>
<circle cx="472.20" cy="226.10" r="1.25" fill="#484848" stroke="#1c1c1c" stroke-width="0.45"/>
<circle cx="482.20" cy="222.80" r="1.25" fill="#484848" stroke="#1c1c1c" stroke-width="0.45"/>
<circle cx="491.70" cy="223.00" r="1.25" fill="#484848" stroke="#1c1c1c" stroke-width="0.45"/>
<circle cx="501.10" cy="223.40" r="1.25" fill="#484848" stroke="#1c1c1c" stroke-width="0.45"/>
<circle cx="510.50" cy="223.70" r="1.25" fill="#484848" stroke="#1c1c1c" stroke-width="0.45"/>
<circle cx="519.40" cy="224.30" r="1.25" fill="#484848" stroke="#1c1c1c" stroke-width="0.45"/>
<circle cx="527.30" cy="224.70" r="1.25" fill="#484848" stroke="#1c1c1c" stroke-width="0.45"/>
<rect x="341.65" y="337.65" width="1.9" height="1.9" fill="#111"/>
<rect x="362.45" y="316.95" width="1.9" height="1.9" fill="#111"/>
<rect x="382.35" y="295.95" width="1.9" height="1.9" fill="#111"/>
<rect x="401.95" y="277.15" width="1.9" height="1.9" fill="#111"/>
<rect x="421.75" y="260.05" width="1.9" height="1.9" fill="#111"/>
<rect x="441.65" y="240.15" width="1.9" height="1.9" fill="#111"/>
<rect x="461.35" y="232.85" width="1.9" height="1.9" fill="#111"/>
<rect x="471.25" y="232.05" width="1.9" height="1.9" fill="#111"/>
<rect x="481.25" y="227.55" width="1.9" height="1.9" fill="#111"/>
<rect x="490.75" y="228.75" width="1.9" height="1.9" fill="#111"/>
<rect x="500.15" y="229.85" width="1.9" height="1.9" fill="#111"/>
<rect x="509.55" y="231.65" width="1.9" height="1.9" fill="#111"/>
<rect x="518.45" y="230.45" width="1.9" height="1.9" fill="#111"/>
<rect x="526.35" y="231.55" width="1.9" height="1.9" fill="#111"/>
<rect x="430.60" y="210.70" width="82.20" height="45.90" fill="none" stroke="#f79646" stroke-width="1.9"/>
<text x="447.10" y="255.10" font-size="7.3" font-weight="bold" letter-spacing="0.06" fill="#1a1a1a" stroke="#1a1a1a" stroke-width="0.15">linear -&gt;nonlinear</text>
<path d="M333.60,344.85 V212.00 H542.80 V344.85 Z" fill="none" stroke="#808080" stroke-width="1.25"/>
<g stroke="#555" stroke-width="0.8"><line x1="342.00" y1="344.85" x2="342.00" y2="347.05"/><line x1="392.10" y1="344.85" x2="392.10" y2="347.05"/><line x1="442.20" y1="344.85" x2="442.20" y2="347.05"/><line x1="492.30" y1="344.85" x2="492.30" y2="347.05"/><line x1="542.40" y1="344.85" x2="542.40" y2="347.05"/><line x1="331.40" y1="341.94" x2="333.60" y2="341.94"/><line x1="331.40" y1="320.50" x2="333.60" y2="320.50"/><line x1="331.40" y1="299.06" x2="333.60" y2="299.06"/><line x1="331.40" y1="277.62" x2="333.60" y2="277.62"/><line x1="331.40" y1="256.18" x2="333.60" y2="256.18"/><line x1="331.40" y1="234.74" x2="333.60" y2="234.74"/><line x1="331.40" y1="213.30" x2="333.60" y2="213.30"/></g>
<g font-size="6.2" fill="#262626" stroke="#262626" stroke-width="0.22">
<text x="342.00" y="353.40" text-anchor="middle">14</text>
<text x="392.10" y="353.40" text-anchor="middle">19</text>
<text x="442.20" y="353.40" text-anchor="middle">24</text>
<text x="492.30" y="353.40" text-anchor="middle">29</text>
<text x="542.40" y="353.40" text-anchor="middle">34</text>
<text x="329.40" y="344.54" text-anchor="end">28</text>
<text x="329.40" y="323.10" text-anchor="end">30</text>
<text x="329.40" y="301.66" text-anchor="end">32</text>
<text x="329.40" y="280.22" text-anchor="end">34</text>
<text x="329.40" y="258.78" text-anchor="end">36</text>
<text x="329.40" y="237.34" text-anchor="end">38</text>
<text x="329.40" y="215.90" text-anchor="end">40</text>
<text x="438.40" y="361.70" text-anchor="middle">Pin(dBm)</text>
<text transform="translate(319.90,278.00) rotate(-90)" text-anchor="middle">Pout(dBm)</text>
</g>
<rect x="451.00" y="288.10" width="87.40" height="53.60" rx="1" fill="#fff" fill-opacity="0.9" stroke="#e2e2e2" stroke-width="0.6"/>
<line x1="453.00" y1="292.60" x2="466.40" y2="292.60" stroke="#ff2020" stroke-width="1.4"/>
<text x="471.00" y="295.10" font-size="6.2" fill="#262626" stroke="#262626" stroke-width="0.22">CS-GA-XGBoost<tspan fill="#808080" stroke="#8a8a8a" stroke-width="0.15">@</tspan><tspan dx="0.4">-40</tspan><tspan font-size="4.6" dy="-1.1">°</tspan><tspan dy="1.1">C</tspan></text>
<path d="M459.70,299.40 L460.75,301.30 L459.70,303.20 L458.65,301.30Z" fill="#1a1a1a"/>
<text x="471.00" y="303.80" font-size="6.2" fill="#262626" stroke="#262626" stroke-width="0.22">Measurement<tspan fill="#808080" stroke="#8a8a8a" stroke-width="0.15">@</tspan><tspan dx="0.4">-40</tspan><tspan font-size="4.6" dy="-1.1">°</tspan><tspan dy="1.1">C</tspan></text>
<line x1="453.00" y1="309.90" x2="466.40" y2="309.90" stroke="#129a12" stroke-width="1.4"/>
<text x="471.00" y="312.40" font-size="6.2" fill="#262626" stroke="#262626" stroke-width="0.22">CS-GA-XGBoost<tspan fill="#808080" stroke="#8a8a8a" stroke-width="0.15">@</tspan><tspan dx="0.4">25</tspan><tspan font-size="4.6" dy="-1.1">°</tspan><tspan dy="1.1">C</tspan></text>
<circle cx="459.70" cy="318.60" r="1.25" fill="#484848" stroke="#1c1c1c" stroke-width="0.45"/>
<text x="471.00" y="321.10" font-size="6.2" fill="#262626" stroke="#262626" stroke-width="0.22">Measurement<tspan fill="#808080" stroke="#8a8a8a" stroke-width="0.15">@</tspan><tspan dx="0.4">25</tspan><tspan font-size="4.6" dy="-1.1">°</tspan><tspan dy="1.1">C</tspan></text>
<line x1="453.00" y1="327.30" x2="466.40" y2="327.30" stroke="#2020ff" stroke-width="1.4"/>
<text x="471.00" y="329.80" font-size="6.2" fill="#262626" stroke="#262626" stroke-width="0.22">CS-GA-XGBoost<tspan fill="#808080" stroke="#8a8a8a" stroke-width="0.15">@</tspan><tspan dx="0.4">125</tspan><tspan font-size="4.6" dy="-1.1">°</tspan><tspan dy="1.1">C</tspan></text>
<rect x="458.75" y="334.95" width="1.9" height="1.9" fill="#111"/>
<text x="471.00" y="338.40" font-size="6.2" fill="#262626" stroke="#262626" stroke-width="0.22">Measurement<tspan fill="#808080" stroke="#8a8a8a" stroke-width="0.15">@</tspan><tspan dx="0.4">125</tspan><tspan font-size="4.6" dy="-1.1">°</tspan><tspan dy="1.1">C</tspan></text>
<g fill="#111"><text x="427.70" y="388.40" font-size="12.4">(</text><text x="431.40" y="388.00" font-size="10.8" font-weight="bold">d</text><text x="437.10" y="388.40" font-size="12.4">)</text></g>
</svg>
</body></html>
